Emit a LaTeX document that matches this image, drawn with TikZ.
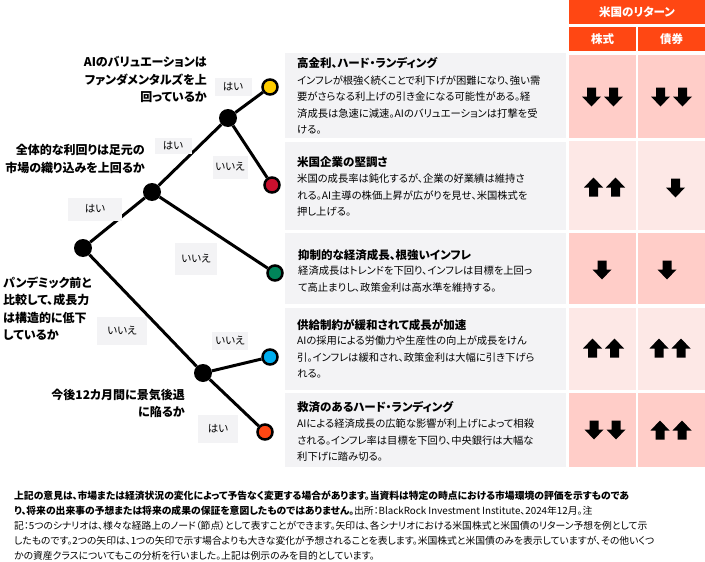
\documentclass[tikz,border=0pt]{standalone}
\usepackage{fontspec}
\setmainfont{Noto Sans CJK JP}[CharacterWidth=AlternateProportional]
\usepackage{tikz}
\usetikzlibrary{positioning}

\definecolor{brorange}{RGB}{255,71,19}
\definecolor{boxgray}{RGB}{243,243,245}
\definecolor{cellpink}{RGB}{255,205,200}
\definecolor{celllight}{RGB}{253,232,230}
\definecolor{leafyellow}{RGB}{255,205,0}
\definecolor{leafred}{RGB}{200,16,46}
\definecolor{leafgreen}{RGB}{0,132,90}
\definecolor{leafblue}{RGB}{0,174,239}
\definecolor{leaforange}{RGB}{255,71,19}

% block arrow: x, y, 1 = down / -1 = up
\newcommand{\retarrow}[3]{%
  \fill[black,shift={(#1,#2)},yscale=#3] (-4.5,-9.5) -- (4.5,-9.5) -- (4.5,-0.5) -- (9.5,-0.5) -- (0,9.5) -- (-9.5,-0.5) -- (-4.5,-0.5) -- cycle ;}

\tikzset{
  fork/.style={circle,fill=black,inner sep=0pt,minimum size=18pt},
  leaf/.style={circle,draw=black,line width=2.5pt,inner sep=0pt,minimum size=15pt},
  branch/.style={line width=3pt},
  answer/.style={fill=boxgray,inner sep=0pt,minimum width=37pt,minimum height=18pt,font=\fontsize{10.5}{12}\selectfont},
  question/.style={inner sep=0pt,font=\bfseries\fontsize{12}{17.5}\selectfont},
  scentitle/.style={anchor=north west,inner sep=0pt,font=\bfseries\fontsize{11.5}{14}\selectfont},
  scenbody/.style={anchor=north west,inner sep=0pt,align=left,font=\fontsize{10.3}{16.5}\selectfont},
  headtext/.style={inner sep=0pt,text=white,font=\bfseries\fontsize{11.5}{14}\selectfont}
}

\begin{document}
\begin{tikzpicture}[x=1pt,y=1pt,yscale=-1,xscale=1]
\useasboundingbox (0,0) rectangle (705,562);

%Shape: scenario boxes
\fill[boxgray] (285,53) rectangle (566,138);
\fill[boxgray] (285,142) rectangle (566,230);
\fill[boxgray] (285,233) rectangle (566,304);
\fill[boxgray] (285,308) rectangle (566,390);
\fill[boxgray] (285,393) rectangle (566,467);

%Shape: return table header
\fill[brorange] (569,0) rectangle (705,24);
\fill[brorange] (569,27) rectangle (636,51);
\fill[brorange] (638,27) rectangle (705,51);
\node[headtext] (usret) at (637,12) {米国のリターン};
\node[headtext] (equity) at (602.5,39) {株式};
\node[headtext] (bonds) at (671.5,39) {債券};

%Shape: return table cells
\fill[cellpink] (569,55) rectangle (636,138);
\fill[cellpink] (638,55) rectangle (705,138);
\fill[celllight] (569,141) rectangle (636,230);
\fill[celllight] (638,141) rectangle (705,230);
\fill[cellpink] (569,233) rectangle (636,304);
\fill[cellpink] (638,233) rectangle (705,304);
\fill[celllight] (569,308) rectangle (636,390);
\fill[celllight] (638,308) rectangle (705,390);
\fill[cellpink] (569,393) rectangle (636,467);
\fill[cellpink] (638,393) rectangle (705,467);

%Arrows: return views
\retarrow{591.5}{97}{1} \retarrow{613.5}{97}{1}
\retarrow{660.5}{97}{1} \retarrow{682.5}{97}{1}
\retarrow{593.5}{187}{-1} \retarrow{615.5}{187}{-1}
\retarrow{675.5}{188}{1}
\retarrow{602}{270}{1}
\retarrow{667}{270}{1}
\retarrow{592.5}{348}{-1} \retarrow{614.5}{348}{-1}
\retarrow{659}{348}{-1} \retarrow{681}{348}{-1}
\retarrow{594}{430}{1} \retarrow{616}{430}{1}
\retarrow{660}{430}{-1} \retarrow{682}{430}{-1}

%Text: scenarios
\node[scentitle] (t1) at (297,57) {高金利、ハード・ランディング};
\node[scenbody] (b1) at (297,75.5) {インフレが根強く続くことで利下げが困難になり、強い需\\要がさらなる利上げの引き金になる可能性がある。経\\済成長は急速に減速。AIのバリュエーションは打撃を受\\ける。};
\node[scentitle] (t2) at (297,156) {米国企業の堅調さ};
\node[scenbody] (b2) at (297,174) {米国の成長率は鈍化するが、企業の好業績は維持さ\\れる。AI主導の株価上昇が広がりを見せ、米国株式を\\押し上げる。};
\node[scentitle] (t3) at (298,249) {抑制的な経済成長、根強いインフレ};
\node[scenbody] (b3) at (298,266) {経済成長はトレンドを下回り、インフレは目標を上回っ\\て高止まりし、政策金利は高水準を維持する。};
\node[scentitle] (t4) at (297,319) {供給制約が緩和されて成長が加速};
\node[scenbody] (b4) at (297,336) {AIの採用による労働力や生産性の向上が成長をけん\\引。インフレは緩和され、政策金利は大幅に引き下げら\\れる。};
\node[scentitle] (t5) at (297,401) {救済のあるハード・ランディング};
\node[scenbody] (b5) at (297,419) {AIによる経済成長の広範な影響が利上げによって相殺\\される。インフレ率は目標を下回り、中央銀行は大幅な\\利下げに踏み切る。};

%Tree: forks and outcomes
\node[fork] (growth) at (83,248) {};
\node[fork] (yield) at (152,192) {};
\node[fork] (valuation) at (228,118) {};
\node[fork] (recession) at (203,373) {};
\node[leaf,fill=leafyellow] (hardland) at (270,87) {};
\node[leaf,fill=leafred] (resilient) at (272,185) {};
\node[leaf,fill=leafgreen] (stagflat) at (275,273) {};
\node[leaf,fill=leafblue] (supply) at (270,357) {};
\node[leaf,fill=leaforange] (rescued) at (265,432) {};

\draw[branch] (growth) -- (yield);
\draw[branch] (yield) -- (valuation);
\draw[branch] (valuation) -- (hardland);
\draw[branch] (valuation) -- (resilient);
\draw[branch] (yield) -- (stagflat);
\draw[branch] (growth) -- (recession);
\draw[branch] (recession) -- (supply);
\draw[branch] (recession) -- (rescued);

%Text: answers
\node[answer] (yes1) at (233,87) {はい};
\node[answer,minimum width=37pt,minimum height=16pt] (yes2) at (173,146) {はい};
\node[answer,minimum width=35pt,minimum height=23pt] (no1) at (230,167) {いいえ};
\node[answer,minimum width=54pt,minimum height=23pt] (yes3) at (95,209) {はい};
\node[answer,minimum width=42pt,minimum height=32pt] (no2) at (196,259) {いいえ};
\node[answer,minimum width=50pt,minimum height=28pt] (no3) at (122,331) {いいえ};
\node[answer,minimum width=36pt,minimum height=18pt] (no4) at (230,341) {いいえ};
\node[answer,minimum width=40pt,minimum height=28pt] (yes4) at (218,429) {はい};

%Text: questions
\node[question,align=right,anchor=east] (qval) at (207,79.5) {AIのバリュエーションは\\ファンダメンタルズを上\\回っているか};
\node[question,align=right,anchor=east] (qyield) at (145,159) {全体的な利回りは足元の\\市場の織り込みを上回るか};
\node[question,align=left,anchor=west] (qgrowth) at (3,308.5) {パンデミック前と\\比較して、成長力\\は構造的に低下\\しているか};
\node[question,align=right,anchor=east] (qrec) at (185,403.5) {今後12カ月間に景気後退\\に陥るか};

%Text: footnote
\node[anchor=north west,inner sep=0pt,align=left,font=\fontsize{9.8}{15}\selectfont] (note) at (14,491) {\textbf{上記の意見は、市場または経済状況の変化によって予告なく変更する場合があります。当資料は特定の時点における市場環境の評価を示すものであ}\\\textbf{り、将来の出来事の予想または将来の成果の保証を意図したものではありません。}出所：BlackRock Investment Institute、2024年12月。注\\記：5つのシナリオは、様々な経路上のノード（節点）として表すことができます。矢印は、各シナリオにおける米国株式と米国債のリターン予想を例として示\\したものです。2つの矢印は、1つの矢印で示す場合よりも大きな変化が予想されることを表します。米国株式と米国債のみを表示していますが、その他いくつ\\かの資産クラスについてもこの分析を行いました。上記は例示のみを目的としています。};

\end{tikzpicture}
\end{document}
